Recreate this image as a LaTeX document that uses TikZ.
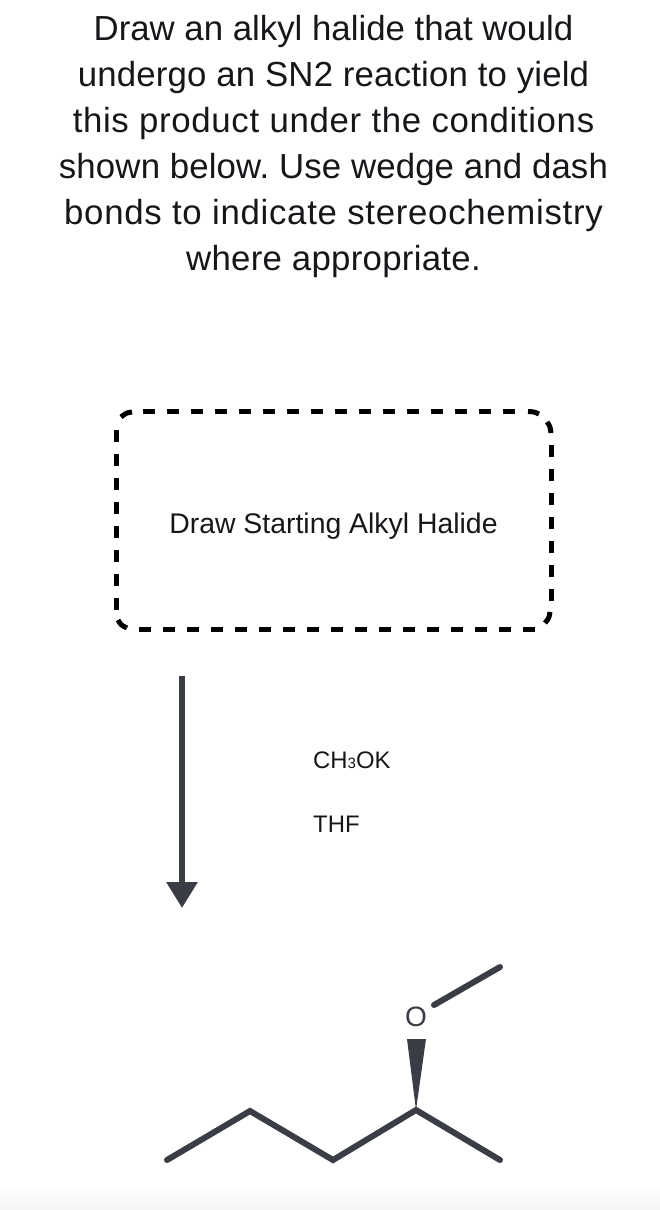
\documentclass[tikz,border=0pt]{standalone}
\usepackage{fontspec}
\setmainfont{Liberation Sans}
\newfontfamily\reagentfont{Liberation Sans}
\usetikzlibrary{arrows.meta}
\definecolor{ink}{HTML}{3A3D46}
\definecolor{txt}{HTML}{15171A}
\newcommand{\spaced}[2]{{\addfontfeature{LetterSpace=#1}#2}}
\tikzset{
  x=1pt,y=-1pt,
  heading/.style={font=\fontsize{34.8}{46}\selectfont\frenchspacing,text=txt,align=center,anchor=north,inner sep=0pt},
  prompt/.style={font=\fontsize{28.4}{32}\selectfont,text=txt,inner sep=0pt},
  reagent/.style={font=\reagentfont\fontsize{23.9}{28}\selectfont,text=txt,anchor=west,inner sep=0pt},
  bond/.style={draw=ink,line width=6pt,line cap=round,line join=miter},
  dashside/.style={draw=black,line width=5pt,dash pattern=on 12pt off 12pt},
  dashcorner/.style={draw=black,line width=5pt},
  atom/.style={font=\reagentfont\fontsize{28}{30}\selectfont,text=ink,inner sep=0pt},
}
\begin{document}
\begin{tikzpicture}
\useasboundingbox (0,0) rectangle (660,1210);
\shade[top color=white,bottom color=black!4,draw=none] (0,1185) rectangle (660,1210);
\node[heading] (title) at (333.5,15) {Draw an alkyl halide that would\\\spaced{0.5}{undergo an SN2 reaction to yield}\\\spaced{1.9}{this product under the conditions}\\\spaced{0.4}{shown below. Use wedge and dash}\\\spaced{2.0}{bonds to indicate stereochemistry}\\\spaced{0.8}{where appropriate.}};
\draw[dashside] (143,411.5) -- (516,411.5);
\draw[dashside] (551,445) -- (551,602);
\draw[dashside] (139,629.5) -- (536,629.5);
\draw[dashside] (116,430) -- (116,610);
\draw[dashcorner] (121,417) .. controls (126,413) .. (132,412);
\draw[dashcorner] (528,411.5) .. controls (534,411.8) .. (539,414);
\draw[dashcorner] (547,422) .. controls (550,426) .. (551,433);
\draw[dashcorner] (550,612) .. controls (549,618) .. (545,623);
\draw[dashcorner] (118,620) .. controls (121,625) .. (127,628);
\node[prompt] (prompt) at (333.5,526) {Draw Starting Alkyl Halide};
\coordinate (arrowtop) at (182,676);
\coordinate (arrowend) at (182,908);
\draw[ink,line width=6pt,-{Triangle[length=26pt,width=30pt]}] (arrowtop) -- (arrowend);
\node[reagent] (base) at (313,760) {CH{\raisebox{-0.5pt}{\fontsize{15}{15}\selectfont 3}}OK};
\node[reagent] (solvent) at (313,824) {THF};
\coordinate (c1) at (167,1160);
\coordinate (c2) at (250,1111);
\coordinate (c3) at (333,1160);
\coordinate (c4) at (416,1110);
\coordinate (c5) at (500,1160);
\coordinate (ome) at (500,967);
\coordinate (oa) at (434,1005);
\coordinate (wl) at (407,1039);
\coordinate (wr) at (426,1039);
\node[atom] (oxygen) at (416,1017) {O};
\draw[bond] (c1) -- (c2) -- (c3) -- (c4) -- (c5);
\draw[bond] (oa) -- (ome);
\fill[ink] (c4) -- (wl) -- (wr) -- cycle;
\end{tikzpicture}
\end{document}
